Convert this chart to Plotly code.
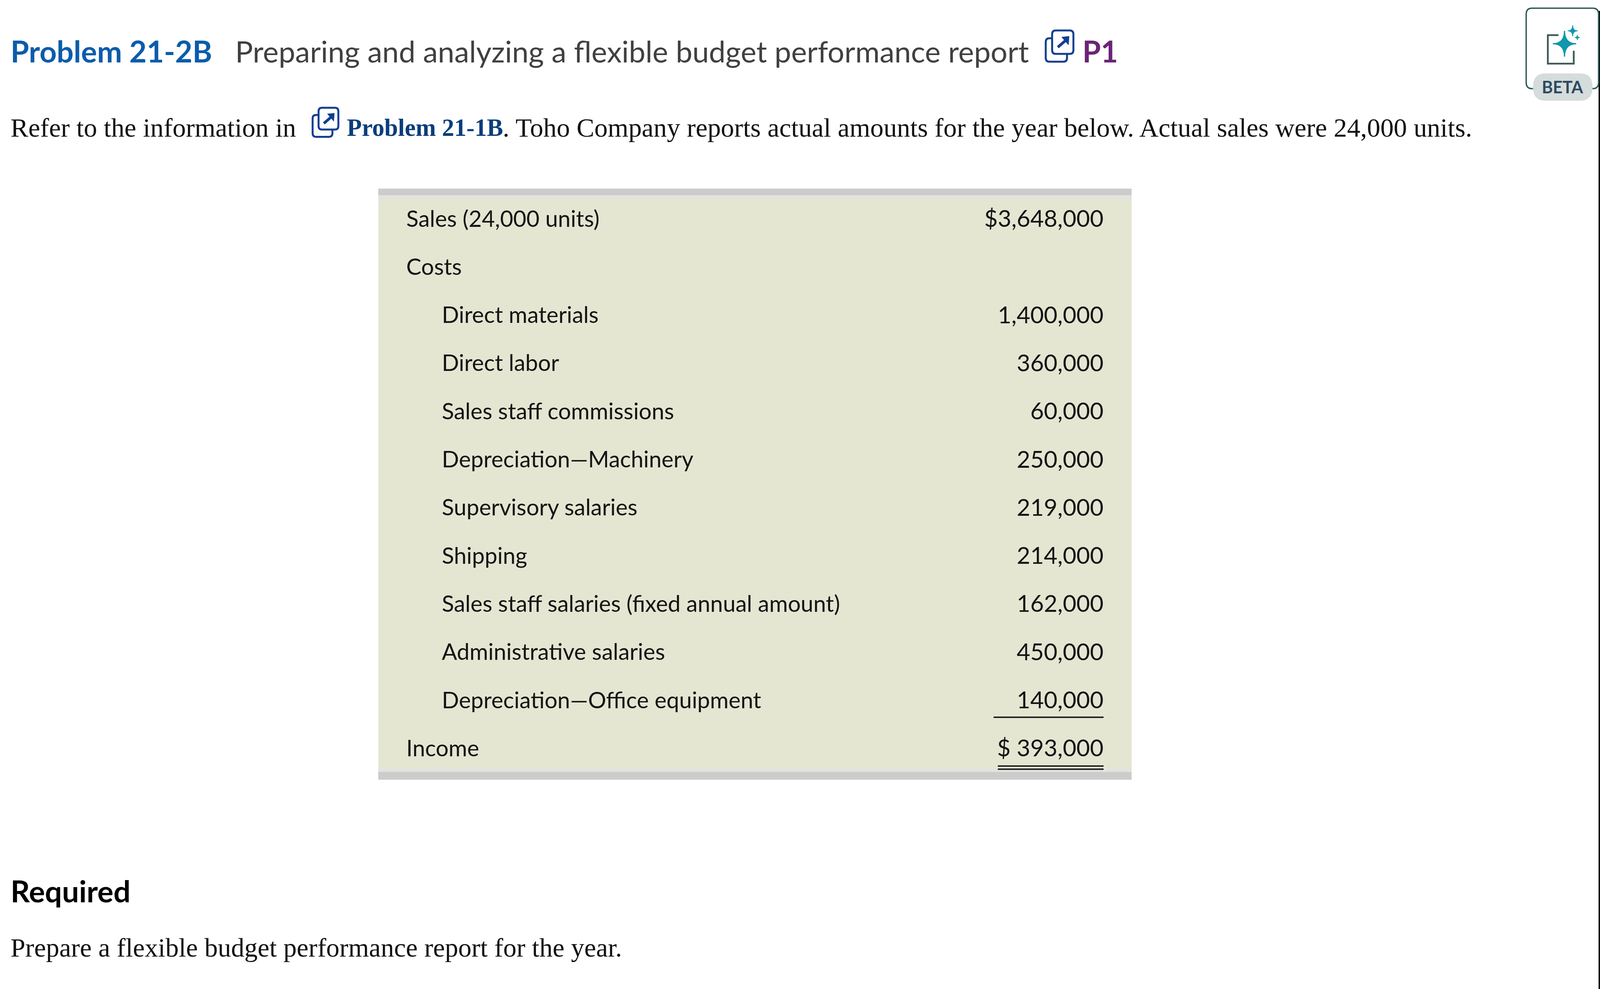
import numpy as np
import plotly.graph_objects as go

W, H = 4509, 2533
SANS = "Lato"
SERIF = "Liberation Serif"

row_labels = ["Sales (24,000 units)", "Costs", "Direct materials", "Direct labor",
              "Sales staff commissions", "Depreciation\u2014Machinery", "Supervisory salaries",
              "Shipping", "Sales staff salaries (fixed annual amount)", "Administrative salaries",
              "Depreciation\u2014Office equipment", "Income"]
row_amounts = [3648000, None, 1400000, 360000, 60000, 250000, 219000, 214000, 162000, 450000, 140000, 393000]
row_prefix = ["$", "", "", "", "", "", "", "", "", "", "", "$ "]
row_indent = [0, 0, 1, 1, 1, 1, 1, 1, 1, 1, 1, 0]

heading_no = "Problem 21-2B"
heading = "Preparing and analyzing a flexible budget performance report"
objective = "P1"
intro = ["Refer to the information in", "Problem 21-1B", ". Toho Company reports actual amounts for the year below. Actual sales were 24,000 units."]
required = "Required"
task = "Prepare a flexible budget performance report for the year."


def round_rect(x0, y0, x1, y1, r):
    return (f"M{x0+r},{y0} L{x1-r},{y0} Q{x1},{y0} {x1},{y0+r} L{x1},{y1-r} Q{x1},{y1} {x1-r},{y1} "
            f"L{x0+r},{y1} Q{x0},{y1} {x0},{y1-r} L{x0},{y0+r} Q{x0},{y0} {x0+r},{y0} Z")


def star(cx, cy, r):
    return (f"M{cx},{cy-r} Q{cx},{cy} {cx+r},{cy} Q{cx},{cy} {cx},{cy+r} "
            f"Q{cx},{cy} {cx-r},{cy} Q{cx},{cy} {cx},{cy-r} Z")


def rect(x0, y0, x1, y1, color):
    return dict(type="rect", x0=x0, y0=y0, x1=x1, y1=y1, fillcolor=color, line_width=0, layer="below")


def rule(x0, x1, y, width=3.5):
    return dict(type="line", x0=x0, x1=x1, y0=y, y1=y, line=dict(color="#111111", width=width))


def outline(path, color, width):
    return dict(type="path", path=path, line=dict(color=color, width=width), fillcolor="rgba(0,0,0,0)")


def link_icon(x, y, s=1.0):
    # two overlapping squares with an arrow in the front one
    navy = "#123f92"
    return [
        outline(round_rect(x, y + 20*s, x + 60*s, y + 80*s, 10*s), navy, 5),
        dict(type="path", path=round_rect(x + 18*s, y, x + 78*s, y + 60*s, 10*s),
             line=dict(color=navy, width=5), fillcolor="white"),
        dict(type="path", path=f"M{x+34*s},{y+43*s} L{x+58*s},{y+24*s}", line=dict(color=navy, width=7)),
        dict(type="path", path=f"M{x+45*s},{y+17*s} L{x+66*s},{y+15*s} L{x+64*s},{y+37*s} Z",
             line=dict(color=navy, width=1), fillcolor=navy),
    ]


def note(x, y, text, font, size, color, anchor="left"):
    return dict(x=x, y=y, text=text, showarrow=False, xanchor=anchor, yanchor="middle",
                font=dict(family=font, size=size, color=color), xref="x", yref="y")


table_left, table_right = 1066, 3189
row_y = 566 + 123.3 * np.arange(len(row_labels))
label_x = [1145 + 100 * ind for ind in row_indent]
amount_text = ["" if a is None else f"{p}{a:,}" for a, p in zip(row_amounts, row_prefix)]

fig = go.Figure()
fig.add_trace(go.Scatter(x=label_x, y=row_y, text=row_labels, mode="text", textposition="middle right",
                         textfont=dict(family=SANS, size=58, color="#141414"), hoverinfo="skip"))
fig.add_trace(go.Scatter(x=[3110] * len(row_y), y=row_y, text=amount_text, mode="text", textposition="middle left",
                         textfont=dict(family=SANS, size=60, color="#141414"), hoverinfo="skip"))

shapes = [
    rect(table_left, 483, table_right, 1997, "#e4e6d2"),
    rect(table_left, 483, table_right, 500, "#cccccc"),
    rect(table_left, 500, table_right, 510, "#e2e2e0"),
    rect(table_left, 1968, table_right, 1977, "#e2e2e0"),
    rect(table_left, 1977, table_right, 1997, "#cccccc"),
    rule(2800, 3110, 1837),
    rule(2812, 3110, 1962),
    rule(2812, 3110, 1970),
    rect(4505, 28, W, H, "#000000"),
    outline(round_rect(4301, 21, 4505, 227, 16), "#2f5a57", 3.5),
    dict(type="path", path=round_rect(4320, 188, 4488, 258, 35), fillcolor="#d5dcdc", line_width=0),
    dict(type="path", path="M4392,90 L4362,90 L4362,163 L4435,163 L4435,130", line=dict(color="#3e5a58", width=4.5)),
    dict(type="path", path=star(4409, 112, 33), fillcolor="#0f97ad", line=dict(color="#0f97ad", width=3)),
    dict(type="path", path=star(4432, 79, 14), fillcolor="#0f97ad", line=dict(color="#0f97ad", width=2)),
    dict(type="path", path=star(4445, 96, 7), fillcolor="#0f97ad", line=dict(color="#0f97ad", width=1.5)),
]
shapes += link_icon(2947, 78)
shapes += link_icon(881, 276, 0.93)

annotations = [
    note(28, 130, f"<b>{heading_no}</b>", SANS, 76.5, "#0b5cab"),
    note(661, 130, heading, SANS, 76, "#404040"),
    note(3048, 130, f"<b>{objective}</b>", SANS, 76, "#6b2477"),
    note(28, 327, intro[0], SERIF, 68.2, "#111111"),
    note(975, 327, f"<b>{intro[1]}</b>", SERIF, 62.5, "#0a3d7a"),
    note(1415, 327, intro[2], SERIF, 68.2, "#111111"),
    note(28, 2281, f"<b>{required}</b>", SANS, 77, "#000000"),
    note(28, 2427, task, SERIF, 68, "#111111"),
    note(4404, 222, "<b>BETA</b>", SANS, 43, "#2e4a5e", "center"),
]

fig.update_layout(
    autosize=True, margin=dict(l=0, r=0, t=0, b=0), showlegend=False,
    paper_bgcolor="white", plot_bgcolor="white", shapes=shapes, annotations=annotations,
    xaxis=dict(range=[0, W], visible=False, fixedrange=True),
    yaxis=dict(range=[H, 0], visible=False, fixedrange=True),
)

fig.write_html("out.html", config=dict(displayModeBar=False, responsive=True),
               default_width="100vw", default_height="100vh",
               post_script="document.body.style.margin='0';window.dispatchEvent(new Event('resize'));")
